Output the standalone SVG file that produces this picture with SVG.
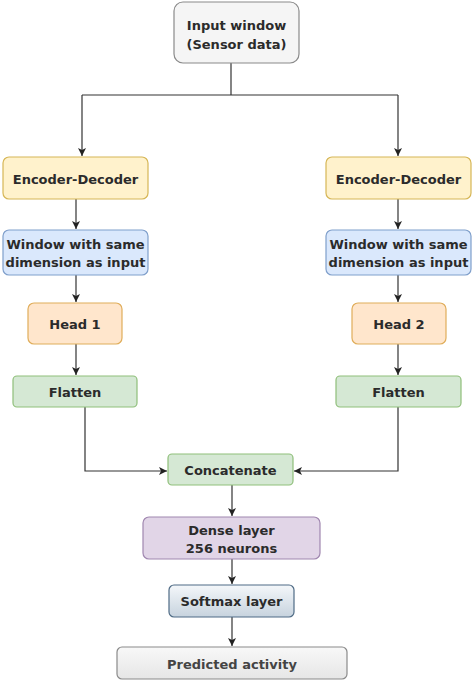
<svg xmlns="http://www.w3.org/2000/svg" width="474" height="681" viewBox="0 0 474 681">
<defs>
<marker id="arr" markerWidth="10" markerHeight="10" refX="9" refY="5" orient="auto" markerUnits="userSpaceOnUse">
<path d="M1,1 L9,5 L1,9 L3,5 Z" fill="#222"/>
</marker>
<linearGradient id="gSoft" x1="0" y1="0" x2="0" y2="1">
<stop offset="0" stop-color="#f4f7fa"/>
<stop offset="1" stop-color="#c7d3de"/>
</linearGradient>
<linearGradient id="gPred" x1="0" y1="0" x2="0" y2="1">
<stop offset="0" stop-color="#f8f8f8"/>
<stop offset="1" stop-color="#e6e6e6"/>
</linearGradient>
</defs>
<style>
text{font-family:"DejaVu Sans",Verdana,sans-serif;font-weight:bold;font-size:13px;fill:#2b2b2b;text-anchor:middle;dominant-baseline:central}
rect{stroke-width:1.2}
.gray{fill:#f5f5f5;stroke:#8a8a8a}
.yel{fill:#fff2cc;stroke:#d6b656}
.blu{fill:#dae8fc;stroke:#7f9fcb}
.ora{fill:#ffe6cc;stroke:#e0ad5a}
.grn{fill:#d5e8d4;stroke:#8fbf7a}
.pur{fill:#e1d5e7;stroke:#a087b0}
.line{fill:none;stroke:#333;stroke-width:1.2}
</style>
<g id="connectors">
<path class="line" d="M231,63 V95"/>
<path class="line" d="M82,95 H398" />
<path class="line" d="M82,95 V156" marker-end="url(#arr)"/>
<path class="line" d="M398,95 V156" marker-end="url(#arr)"/>
<path class="line" d="M76,199 V229" marker-end="url(#arr)"/>
<path class="line" d="M398,199 V229" marker-end="url(#arr)"/>
<path class="line" d="M76,275 V302" marker-end="url(#arr)"/>
<path class="line" d="M398,275 V302" marker-end="url(#arr)"/>
<path class="line" d="M76,344 V375" marker-end="url(#arr)"/>
<path class="line" d="M398,344 V375" marker-end="url(#arr)"/>
<path class="line" d="M85,407 V471 H167" marker-end="url(#arr)"/>
<path class="line" d="M398,407 V471 H294" marker-end="url(#arr)"/>
<path class="line" d="M232,485 V516" marker-end="url(#arr)"/>
<path class="line" d="M232,559 V584" marker-end="url(#arr)"/>
<path class="line" d="M232,617 V646" marker-end="url(#arr)"/>
</g>
<g id="input">
<rect class="gray" x="174" y="2" width="125" height="61" rx="9"/>
<text x="236.5" y="25">Input window</text>
<text x="236.5" y="44">(Sensor data)</text>
</g>
<g id="enc1">
<rect class="yel" x="3" y="157" width="145" height="42" rx="6"/>
<text x="75.5" y="179">Encoder-Decoder</text>
</g>
<g id="enc2">
<rect class="yel" x="326" y="157" width="145" height="42" rx="6"/>
<text x="398.5" y="179">Encoder-Decoder</text>
</g>
<g id="win1">
<rect class="blu" x="3" y="230" width="145" height="45" rx="6"/>
<text x="75.5" y="244">Window with same</text>
<text x="75.5" y="262">dimension as input</text>
</g>
<g id="win2">
<rect class="blu" x="326" y="230" width="145" height="45" rx="6"/>
<text x="398.5" y="244">Window with same</text>
<text x="398.5" y="262">dimension as input</text>
</g>
<g id="head1">
<rect class="ora" x="28" y="303" width="94" height="41" rx="6"/>
<text x="75" y="324">Head 1</text>
</g>
<g id="head2">
<rect class="ora" x="352" y="303" width="94" height="41" rx="6"/>
<text x="399" y="324">Head 2</text>
</g>
<g id="flat1">
<rect class="grn" x="13" y="376" width="124" height="31" rx="4"/>
<text x="75" y="392">Flatten</text>
</g>
<g id="flat2">
<rect class="grn" x="336" y="376" width="125" height="31" rx="4"/>
<text x="398.5" y="392">Flatten</text>
</g>
<g id="concat">
<rect class="grn" x="168" y="454" width="125" height="31" rx="4"/>
<text x="230.5" y="470">Concatenate</text>
</g>
<g id="dense">
<rect class="pur" x="143" y="517" width="177" height="42" rx="6"/>
<text x="231.5" y="530">Dense layer</text>
<text x="231.5" y="548">256 neurons</text>
</g>
<g id="softmax">
<rect x="169" y="585" width="125" height="32" rx="5" fill="url(#gSoft)" stroke="#4f6b85"/>
<text x="231.5" y="601">Softmax layer</text>
</g>
<g id="pred">
<rect x="117" y="647" width="230" height="32" rx="5" fill="url(#gPred)" stroke="#8a8a8a"/>
<text x="232" y="664" style="fill:#444">Predicted activity</text>
</g>
</svg>
